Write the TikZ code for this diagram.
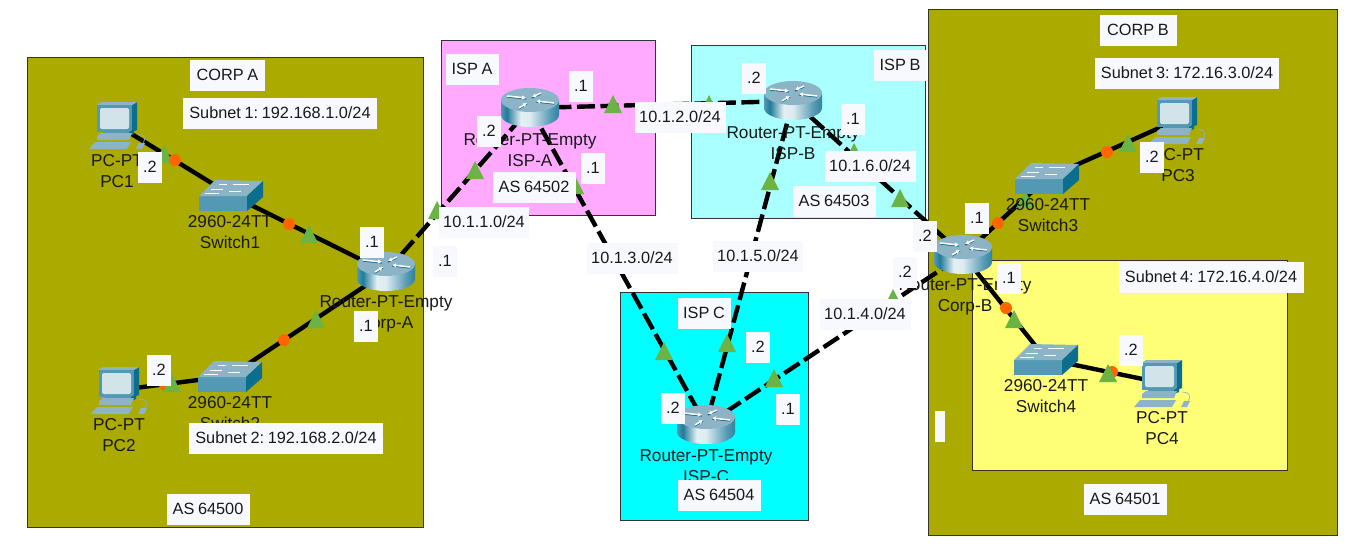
\documentclass[tikz,border=0pt]{standalone}
\usepackage{fontspec}
\setmainfont[WordSpace=0.8]{Liberation Sans}
\usetikzlibrary{arrows.meta}
\definecolor{corpfill}{HTML}{AAAA00}
\definecolor{ispafill}{HTML}{FFAAFF}
\definecolor{ispbfill}{HTML}{AAFFFF}
\definecolor{ispcfill}{HTML}{00FFFF}
\definecolor{subfill}{HTML}{FFFF77}
\definecolor{notefill}{HTML}{F8F9FF}
\definecolor{trigreen}{HTML}{6AB344}
\definecolor{dotorange}{HTML}{FF6600}
\definecolor{devlight}{HTML}{8DB4C6}
\definecolor{devmid}{HTML}{5499B3}
\definecolor{devdark}{HTML}{0B6E8E}
\definecolor{devscreen}{HTML}{D3E3EA}
\pgfdeclarehorizontalshading{routerbody}{100bp}{color(0bp)=(devmid); color(25bp)=(devmid); color(30bp)=(devdark!70!devmid); color(42bp)=(white!85!devmid); color(50bp)=(white!80!devmid); color(68bp)=(devmid); color(75bp)=(devdark!85!white); color(100bp)=(devdark!85!white)}
\tikzset{
  zone/.style={draw=black!80,line width=1pt},
  solidlink/.style={line width=4.4pt,black},
  dashlink/.style={line width=4.4pt,black,dash pattern=on 18pt off 5.5pt},
  note/.style={fill=notefill,inner sep=0pt,minimum height=31pt,font=\fontsize{16.3}{20}\selectfont\frenchspacing,text=black!90},
  devlabel/.style={inner sep=0pt,align=center,font=\fontsize{17.2}{21}\selectfont,text=black!90},
  devnode/.style={inner sep=0pt,minimum size=20pt},
  statustri/.style={fill=trigreen},
  statusdot/.style={fill=dotorange},
  whitearrow/.style={white,line width=1.5pt,-{Latex[length=4pt,width=4.5pt]}},
  shadowline/.style={devdark,line width=1.2pt},
  routerpic/.pic={
    \shade[shading=routerbody] (-29,-8) -- (-29,7) arc[start angle=180,end angle=0,x radius=29,y radius=12] -- (29,-8) -- cycle;
    \fill[devlight] (0,-8) ellipse[x radius=29,y radius=12];
    \draw[shadowline] (-23,-11) -- (-4,-9);
    \draw[shadowline] (24,-4) -- (6,-6);
    \draw[shadowline] (11,-14) -- (2,-10);
    \draw[shadowline] (-11,1) -- (-3,-4);
    \draw[whitearrow] (-23,-12) -- (-4,-10);
    \draw[whitearrow] (24,-5) -- (6,-7);
    \draw[whitearrow] (11,-15) -- (2,-11);
    \draw[whitearrow] (-11,0) -- (-3,-5);
  },
  switchpic/.pic={
    \fill[devmid] (-32,1) rectangle (16,16);
    \fill[devlight] (-32,1) -- (-16,-15) -- (32,-14) -- (16,1) -- cycle;
    \fill[devdark] (16,1) -- (32,-14) -- (32,2) -- (16,16) -- cycle;
    \draw[white,line width=1pt] (-20,-6) -- (-8,-6) (-26,-2) -- (-12,-2) (2,-11) -- (18,-11) (-2,-4) -- (10,-4) (-4,-11) -- (-12,-11);
  },
  pcpic/.pic={
    \fill[devdark] (15,-20) -- (20,-23) -- (20,5) -- (15,7) -- cycle;
    \fill[devlight] (-20,-20) -- (-16,-23) -- (20,-23) -- (15,-20) -- cycle;
    \fill[devmid] (-20,-20) rectangle (15,7);
    \fill[devscreen,rounded corners=2pt] (-17,-17) rectangle (12,4);
    \fill[devmid] (-14,7) rectangle (12,11);
    \fill[devdark] (12,7) -- (17,4) -- (17,9) -- (12,11) -- cycle;
    \fill[devlight] (-20,11) -- (-16,8) -- (15,8) -- (12,15) -- (-20,15) -- cycle;
    \fill[devlight] (-28,24) -- (-22,17) -- (14,17) -- (10,24) -- cycle;
    \fill[devlight] (19,24) -- (22,18) -- (28,18) -- (25,24) -- cycle;
    \draw[devlight,line width=.6pt] (26,18) .. controls (30,12) and (26,9) .. (20,9);
  }
}
\newcommand\noteat[5]{\node[note,minimum width=#4pt] (#1) at (#2,#3) {#5};}
\newcommand\trimark[2]{\fill[statustri] (#1,#2) ++(-9,9) -- ++(18,0) -- ++(-9,-18) -- cycle;}
\newcommand\dotmark[2]{\fill[statusdot] (#1,#2) circle[radius=6];}
\begin{document}
\begin{tikzpicture}[x=1pt,y=-1pt]
\useasboundingbox (0,0) rectangle (1353,550);
\fill[white] (0,0) rectangle (1353,550);
% zones
\draw[zone,fill=corpfill] (27,57) rectangle (423,527);
\draw[zone,fill=ispafill] (441,40) rectangle (655,215);
\draw[zone,fill=ispbfill] (691,45) rectangle (925,218);
\draw[zone,fill=ispcfill] (620,292) rectangle (808,520);
\draw[zone,fill=corpfill] (928,9) rectangle (1337,535);
\draw[zone,fill=subfill] (972,260) rectangle (1287,470);
% device anchors
\node[devnode] (corpA) at (386,272) {};
\node[devnode] (ispA) at (530,108) {};
\node[devnode] (ispB) at (793,101) {};
\node[devnode] (ispC) at (706,425) {};
\node[devnode] (corpB) at (963,255) {};
\node[devnode] (sw1) at (231,195) {};
\node[devnode] (sw2) at (230,376) {};
\node[devnode] (sw3) at (1047,178) {};
\node[devnode] (sw4) at (1046,359) {};
\node[devnode] (pc1) at (117,125) {};
\node[devnode] (pc2) at (119,390) {};
\node[devnode] (pc3) at (1177,120) {};
\node[devnode] (pc4) at (1162,383) {};
% links
\draw[solidlink] (pc1.center) -- (sw1.center);
\draw[solidlink] (sw1.center) -- (corpA.center);
\draw[solidlink] (pc2.center) -- (sw2.center);
\draw[solidlink] (sw2.center) -- (corpA.center);
\draw[solidlink] (sw3.center) -- (corpB.center);
\draw[solidlink] (sw3.center) -- (pc3.center);
\draw[solidlink] (corpB.center) -- (sw4.center);
\draw[solidlink] (sw4.center) -- (pc4.center);
\draw[dashlink] (corpA.center) -- (ispA.center);
\draw[dashlink] (ispA.center) -- (ispB.center);
\draw[dashlink] (ispA.center) -- (ispC.center);
\draw[dashlink] (ispB.center) -- (ispC.center);
\draw[dashlink] (ispB.center) -- (corpB.center);
\draw[dashlink] (ispC.center) -- (corpB.center);
% link status marks
\trimark{164}{154} \dotmark{175}{160}
\dotmark{289}{224} \trimark{309}{234}
\dotmark{284}{340} \trimark{316}{319}
\dotmark{165}{385} \trimark{172}{383}
\trimark{475}{170} \trimark{437}{210}
\trimark{613}{104} \trimark{709}{104}
\trimark{575}{185} \trimark{664}{351}
\trimark{770}{181} \trimark{727}{343}
\trimark{854}{152} \trimark{900}{198}
\trimark{774}{378} \trimark{893}{298}
\trimark{1025}{199} \dotmark{998}{223}
\dotmark{1107}{152} \trimark{1128}{143}
\dotmark{1006}{308} \trimark{1014}{319}
\dotmark{1112}{372} \trimark{1108}{373}
% devices
\pic at (corpA) {routerpic};
\pic at (ispA) {routerpic};
\pic at (ispB) {routerpic};
\pic at (ispC) {routerpic};
\pic at (corpB) {routerpic};
\pic at (sw1) {switchpic};
\pic at (sw2) {switchpic};
\pic at (sw3) {switchpic};
\pic at (sw4) {switchpic};
\pic at (pc1) {pcpic};
\pic at (pc2) {pcpic};
\pic at (pc3) {pcpic};
\pic at (pc4) {pcpic};
% device labels
\node[devlabel] (lblcorpA) at (386,314) {Router-PT-Empty\\Corp-A};
\node[devlabel] (lblispA) at (530,150) {Router-PT-Empty\\ISP-A};
\node[devlabel] (lblispB) at (793,143) {Router-PT-Empty\\ISP-B};
\node[devlabel] (lblispC) at (706,466) {Router-PT-Empty\\ISP-C};
\node[devlabel] (lblcorpB) at (965,297) {Router-PT-Empty\\Corp-B};
\node[devlabel] (lblsw1) at (230,232) {2960-24TT\\Switch1};
\node[devlabel] (lblsw2) at (230,413) {2960-24TT\\Switch2};
\node[devlabel] (lblsw3) at (1048,215) {2960-24TT\\Switch3};
\node[devlabel] (lblsw4) at (1046,396) {2960-24TT\\Switch4};
\node[devlabel] (lblpc1) at (117,171) {PC-PT\\PC1};
\node[devlabel] (lblpc2) at (119,435) {PC-PT\\PC2};
\node[devlabel] (lblpc3) at (1178,165) {PC-PT\\PC3};
\node[devlabel] (lblpc4) at (1162,428) {PC-PT\\PC4};
% notes
\noteat{n1}{227.5}{75}{75}{CORP A}
\noteat{n2}{280}{113}{194}{Subnet 1: 192.168.1.0/24}
\noteat{n3}{150}{167}{24}{.2}
\noteat{n4}{372}{242}{24}{.1}
\noteat{n5}{366}{326}{24}{.1}
\noteat{n6}{159}{370}{24}{.2}
\noteat{n7}{286}{438}{194}{Subnet 2: 192.168.2.0/24}
\noteat{n8}{208}{509}{83}{AS 64500}
\noteat{n9}{445}{261}{24}{.1}
\noteat{n10}{484}{222}{90}{10.1.1.0/24}
\noteat{n11}{472}{69}{53}{ISP A}
\noteat{n12}{581}{86}{24}{.1}
\noteat{n13}{489}{131}{24}{.2}
\noteat{n14}{593}{168}{24}{.1}
\noteat{n15}{534}{187}{83}{AS 64502}
\noteat{n16}{632}{258}{91}{10.1.3.0/24}
\noteat{n17}{758}{256}{90}{10.1.5.0/24}
\noteat{n18}{680}{117}{91}{10.1.2.0/24}
\noteat{n19}{754}{78}{24}{.2}
\noteat{n20}{853}{119}{24}{.1}
\noteat{n21}{900}{65}{52}{ISP B}
\noteat{n22}{870}{166}{91}{10.1.6.0/24}
\noteat{n23}{834}{201}{83}{AS 64503}
\noteat{n24}{925}{236}{24}{.2}
\noteat{n25}{905}{272}{24}{.2}
\noteat{n26}{865}{314}{91}{10.1.4.0/24}
\noteat{n27}{704}{313}{53}{ISP C}
\noteat{n28}{758}{347}{24}{.2}
\noteat{n29}{788}{409}{24}{.1}
\noteat{n30}{673}{408}{24}{.2}
\noteat{n31}{719}{495}{83}{AS 64504}
\noteat{n32}{1138}{30}{77}{CORP B}
\noteat{n33}{1187}{73}{184}{Subnet 3: 172.16.3.0/24}
\noteat{n34}{977}{218}{24}{.1}
\noteat{n35}{1152}{157}{24}{.2}
\noteat{n36}{1009}{278}{24}{.1}
\noteat{n37}{1211}{277}{185}{Subnet 4: 172.16.4.0/24}
\noteat{n38}{1131}{350}{24}{.2}
\noteat{n39}{940}{426}{10}{}
\noteat{n40}{1125}{499}{83}{AS 64501}
\end{tikzpicture}
\end{document}
